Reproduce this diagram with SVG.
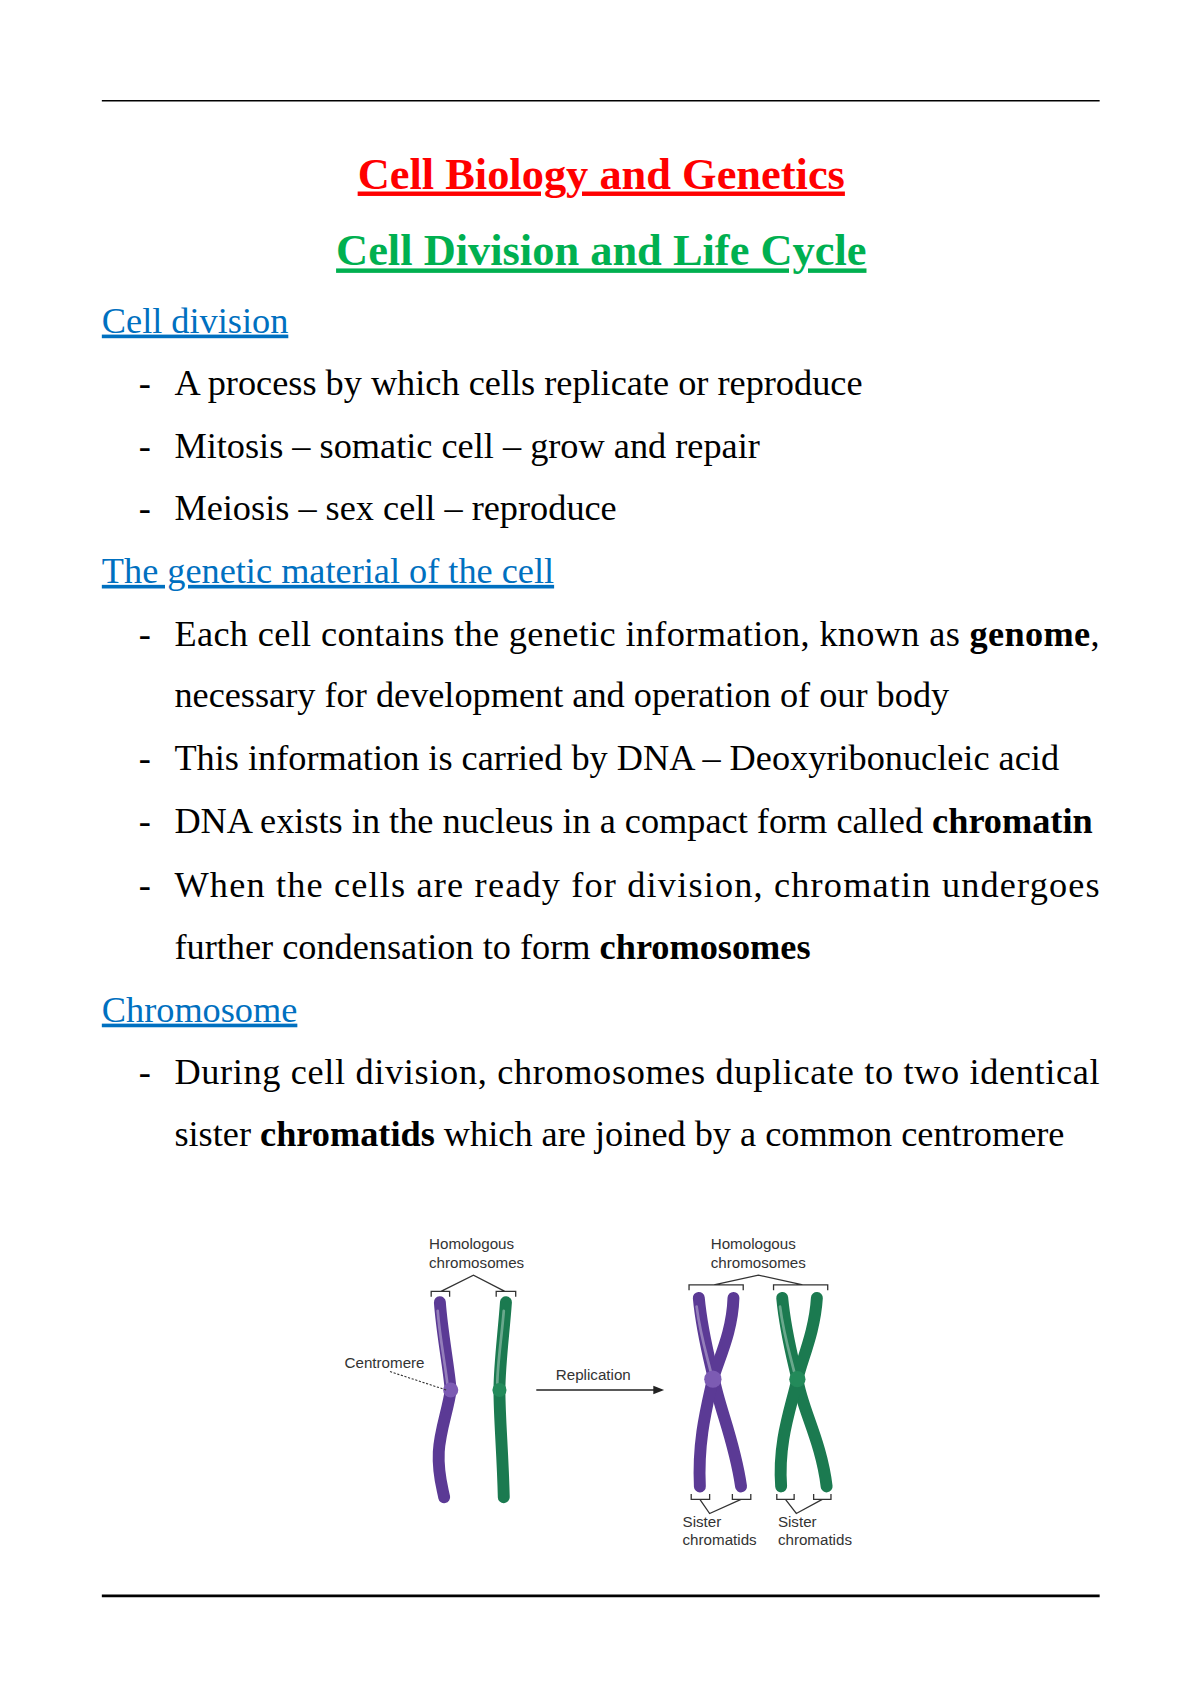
<svg xmlns="http://www.w3.org/2000/svg" width="1200" height="1698" viewBox="0 0 1200 1698">
<style>
.b{font-family:"Liberation Serif","Times New Roman",serif;font-size:33.5px;fill:#000}
.h{font-family:"Liberation Serif","Times New Roman",serif;font-size:33.5px;fill:#0070c0;text-decoration:underline}
.t{font-family:"Liberation Serif","Times New Roman",serif;font-size:41px;font-weight:bold;text-decoration:underline;text-anchor:middle}
.s{font-family:"Liberation Sans",Arial,sans-serif;font-size:14px;fill:#333}
.pu{fill:none;stroke:#5b3a95;stroke-width:11;stroke-linecap:round;stroke-linejoin:round}
.gr{fill:none;stroke:#1b7a50;stroke-width:11;stroke-linecap:round;stroke-linejoin:round}
.hl{fill:none;stroke:#ffffff;stroke-opacity:.35;stroke-width:2.5;stroke-linecap:round}
.br{fill:none;stroke:#333;stroke-width:1.2}
</style>
<rect width="1200" height="1698" fill="#fff"/>
<g transform="scale(1.0834)">
<line x1="94" y1="93" x2="1015" y2="93" stroke="#000" stroke-width="1.2"/>
<line x1="94" y1="1473" x2="1015" y2="1473" stroke="#000" stroke-width="2.5"/>
<g transform="translate(0,2)">
<text class="t" x="555" y="172" fill="#ff0000">Cell Biology and Genetics</text>
<text class="t" x="555" y="243" fill="#00b050">Cell Division and Life Cycle</text>
<text class="h" x="94" y="305">Cell division</text>
<g class="b">
<text x="128" y="363">-</text><text x="161" y="363">A process by which cells replicate or reproduce</text>
<text x="128" y="421">-</text><text x="161" y="421">Mitosis – somatic cell – grow and repair</text>
<text x="128" y="478">-</text><text x="161" y="478">Meiosis – sex cell – reproduce</text>
</g>
<text class="h" x="94" y="536">The genetic material of the cell</text>
<g class="b">
<text x="128" y="594">-</text><text x="161" y="594" textLength="854" lengthAdjust="spacing">Each cell contains the genetic information, known as <tspan font-weight="bold">genome</tspan>,</text>
<text x="161" y="651">necessary for development and operation of our body</text>
<text x="128" y="709">-</text><text x="161" y="709">This information is carried by DNA – Deoxyribonucleic acid</text>
<text x="128" y="767">-</text><text x="161" y="767">DNA exists in the nucleus in a compact form called <tspan font-weight="bold">chromatin</tspan></text>
<text x="128" y="826">-</text><text x="161" y="826" textLength="854" lengthAdjust="spacing">When the cells are ready for division, chromatin undergoes</text>
<text x="161" y="883">further condensation to form <tspan font-weight="bold">chromosomes</tspan></text>
</g>
<text class="h" x="94" y="941">Chromosome</text>
<g class="b">
<text x="128" y="999">-</text><text x="161" y="999" textLength="854" lengthAdjust="spacing">During cell division, chromosomes duplicate to two identical</text>
<text x="161" y="1056">sister <tspan font-weight="bold">chromatids</tspan> which are joined by a common centromere</text>
</g>
</g>
<g id="figure">
<text class="s" x="396" y="1153">Homologous</text><text class="s" x="396" y="1170">chromosomes</text>
<path class="br" d="M398 1197v-5h17v5M458 1197v-5h18v5M407 1192L437 1177L466 1192"/>
<path class="pu" d="M406 1202C408 1230 414 1260 416 1283C414 1300 406 1320 405 1340C404 1360 408 1372 410 1382"/>
<path class="hl" d="M404 1210C406 1235 411 1260 413 1278"/>
<circle cx="416" cy="1283" r="7" fill="#7c5bb3"/>
<path class="gr" d="M467 1202C465 1230 461 1260 461 1283C461 1310 464 1340 465 1382"/>
<path class="hl" d="M465 1210C463 1235 459 1260 459 1278"/>
<circle cx="461" cy="1283" r="6.5" fill="#238a5a"/>
<text class="s" x="318" y="1263">Centromere</text>
<path d="M360 1266L412 1283" stroke="#333" stroke-width="1" stroke-dasharray="2,1.5" fill="none"/>
<line x1="495" y1="1283" x2="605" y2="1283" stroke="#222" stroke-width="1.5"/>
<path d="M613 1283L603 1279L603 1287Z" fill="#222"/>
<text class="s" x="513" y="1274">Replication</text>
<text class="s" x="656" y="1153">Homologous</text><text class="s" x="656" y="1170">chromosomes</text>
<path class="br" d="M636 1191v-5h50v5M714 1191v-5h50v5M659 1186L700 1177L741 1186"/>
<path class="pu" d="M645 1198C648 1230 655 1255 659 1273C664 1300 678 1330 684 1372"/>
<path class="pu" d="M677 1198C676 1230 663 1255 658 1273C652 1300 644 1330 646 1372"/>
<path class="hl" d="M643 1206C646 1230 652 1250 656 1266"/>
<circle cx="658" cy="1273" r="8" fill="#7c5bb3"/>
<path class="gr" d="M722 1198C725 1230 732 1255 736 1273C740 1300 758 1330 763 1372"/>
<path class="gr" d="M754 1198C752 1230 740 1255 736 1273C730 1300 718 1330 721 1372"/>
<path class="hl" d="M720 1206C723 1230 729 1250 733 1266"/>
<circle cx="736" cy="1273" r="7.5" fill="#238a5a"/>
<path class="br" d="M638 1379v5h17v-5M676 1379v5h17v-5M717 1379v5h16v-5M751 1379v5h16v-5M646 1384L655 1397L684 1384M725 1384L735 1397L759 1384"/>
<text class="s" x="630" y="1409">Sister</text><text class="s" x="630" y="1426">chromatids</text>
<text class="s" x="718" y="1409">Sister</text><text class="s" x="718" y="1426">chromatids</text>
</g>
</g>
</svg>
